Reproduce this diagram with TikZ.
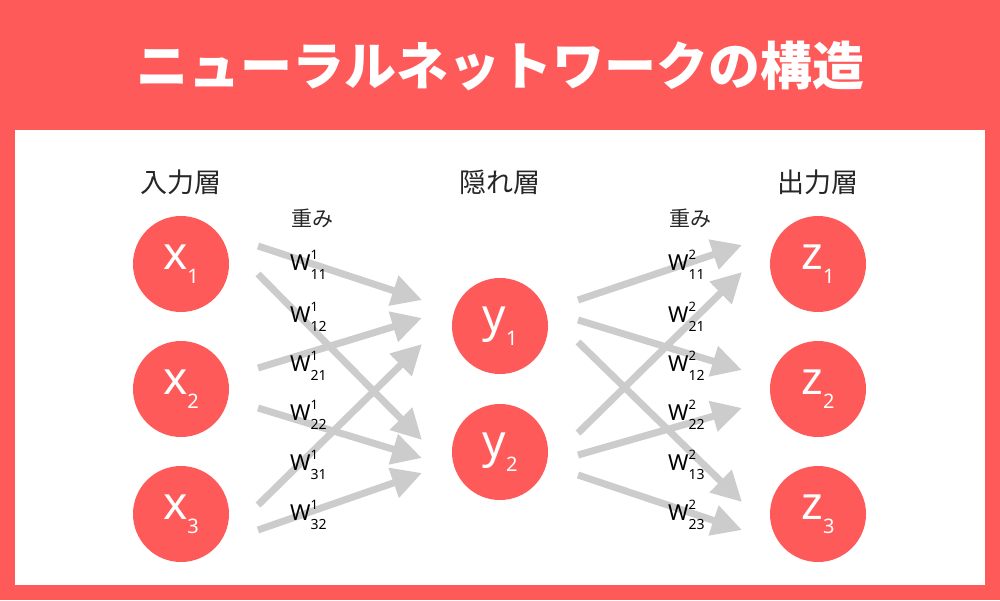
\documentclass[tikz,border=0pt]{standalone}
\usepackage{fontspec}
\setmainfont{Noto Sans CJK JP}
\newfontfamily\lat{Noto Sans}
\usetikzlibrary{arrows.meta}
\definecolor{myred}{HTML}{FF5A5A}
\definecolor{arr}{HTML}{CCCCCC}
\tikzset{
 neuron/.style={circle,fill=myred,minimum size=96pt,inner sep=0pt,text=white,font=\lat\fontsize{46}{46}\selectfont},
 wgt/.style={line width=7pt,draw=arr,-{Triangle[length=30pt,width=30pt]}},
 head/.style={font=\fontsize{27}{27}\selectfont,text=black!85},
 wl/.style={font=\lat\fontsize{22}{22}\selectfont,inner sep=0pt}
}
\newcommand{\nl}[2]{#1\raisebox{-0.3em}{\fontsize{20}{20}\selectfont #2}}
\newcommand{\wlab}[2]{W\raisebox{0.5em}{\rlap{\fontsize{13}{13}\selectfont #1}}\raisebox{-0.4em}{\fontsize{14}{14}\selectfont #2}}
\begin{document}
\begin{tikzpicture}[x=1pt,y=-1pt]
\fill[myred] (0,0) rectangle (1000,600);
\fill[white] (15,130) rectangle (985,585);
\node[text=white,font=\fontsize{52}{52}\selectfont\bfseries] (title) at (500,66) {ニューラルネットワークの構造};
\node[head] (h1) at (181,182) {入力層};
\node[head] (h2) at (500,182) {隠れ層};
\node[head] (h3) at (818,182) {出力層};
\node[font=\fontsize{21}{21}\selectfont,text=black!85] (o1) at (312,218) {重み};
\node[font=\fontsize{21}{21}\selectfont,text=black!85] (o2) at (690,218) {重み};
\node[neuron] (x1) at (181,264) {\nl{x}{1}};
\node[neuron] (x2) at (181,389) {\nl{x}{2}};
\node[neuron] (x3) at (181,514) {\nl{x}{3}};
\node[neuron] (y1) at (500,326) {\nl{y}{1}};
\node[neuron] (y2) at (500,452) {\nl{y}{2}};
\node[neuron] (z1) at (818,264) {\nl{z}{1}};
\node[neuron] (z2) at (818,389) {\nl{z}{2}};
\node[neuron] (z3) at (818,514) {\nl{z}{3}};
\coordinate (a1) at (258,246); \coordinate (b1) at (422,300);
\coordinate (a2) at (258,274); \coordinate (b2) at (422,440);
\coordinate (a3) at (258,368); \coordinate (b3) at (422,318);
\coordinate (a4) at (258,408); \coordinate (b4) at (422,458);
\coordinate (a5) at (258,505); \coordinate (b5) at (422,344);
\coordinate (a6) at (258,530); \coordinate (b6) at (422,473);
\foreach \i in {1,...,6} \draw[wgt] (a\i) -- (b\i);
\coordinate (c1) at (578,300); \coordinate (d1) at (742,245);
\coordinate (c2) at (578,320); \coordinate (d2) at (742,370);
\coordinate (c3) at (578,342); \coordinate (d3) at (742,502);
\coordinate (c4) at (578,433); \coordinate (d4) at (742,272);
\coordinate (c5) at (578,455); \coordinate (d5) at (742,408);
\coordinate (c6) at (578,475); \coordinate (d6) at (742,530);
\foreach \i in {1,...,6} \draw[wgt] (c\i) -- (d\i);
\foreach \t/\y [count=\k] in {11/265,12/317,21/366,22/415,31/465,32/515}
  \node[wl,anchor=west] (wa\k) at (290,\y) {\wlab{1}{\t}};
\foreach \t/\y [count=\k] in {11/265,21/317,12/366,22/415,13/465,23/515}
  \node[wl,anchor=west] (wb\k) at (668,\y) {\wlab{2}{\t}};
\end{tikzpicture}
\end{document}
